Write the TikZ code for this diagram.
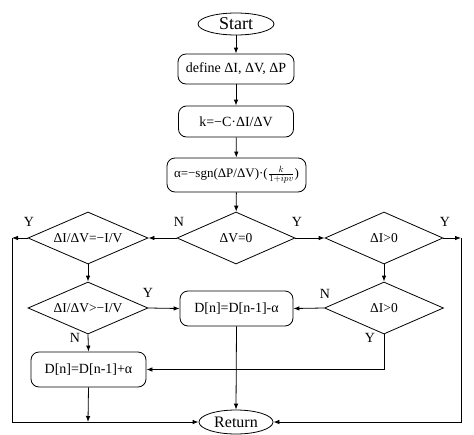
\documentclass[tikz,border=0pt]{standalone}
\usepackage{fontspec}
\setmainfont{Liberation Serif}
\usetikzlibrary{shapes.geometric,arrows.meta}
\tikzset{
  arr/.style={-{Latex[length=6pt,width=4.5pt]}},
  term/.style={ellipse,draw,inner sep=0pt},
  proc/.style={draw,rounded corners=8pt,inner sep=0pt,font=\fontsize{14}{16}\selectfont},
  dec/.style={diamond,draw,inner sep=0pt,aspect=2.3,font=\fontsize{13.5}{16}\selectfont},
  lab/.style={font=\fontsize{14}{16}\selectfont,inner sep=0pt}
}
\begin{document}
\begin{tikzpicture}[x=1pt,y=-1pt,line width=0.8pt]
\useasboundingbox (0,0) rectangle (474,434);
\node[term,minimum width=76pt,minimum height=22pt,font=\fontsize{18}{20}\selectfont] (start) at (236,24) {Start};
\node[proc,minimum width=116pt,minimum height=30pt] (def) at (236,69) {define ΔI, ΔV, ΔP};
\node[proc,minimum width=115pt,minimum height=31pt] (k) at (236,121.5) {k=−C·ΔI/ΔV};
\node[proc,minimum width=139pt,minimum height=34pt,font=\fontsize{13}{15}\selectfont] (al) at (236.5,175) {α=−sgn(ΔP/ΔV)·($\frac{k}{1+ipv}$)};
\node[dec,minimum width=118pt,minimum height=52pt] (dv) at (236,238) {ΔV=0};
\node[dec,minimum width=120pt,minimum height=52pt] (dd1) at (88,238) {ΔI/ΔV=−I/V};
\node[dec,minimum width=120pt,minimum height=52pt] (dd2) at (88,308) {ΔI/ΔV>−I/V};
\node[dec,minimum width=118pt,minimum height=52pt] (di1) at (384,238) {ΔI>0};
\node[dec,minimum width=119pt,minimum height=52pt] (di2) at (384,308) {ΔI>0};
\node[proc,minimum width=113pt,minimum height=35pt] (bm) at (236.5,308.5) {D[n]=D[n-1]-α};
\node[proc,minimum width=115pt,minimum height=35pt] (bp) at (88.5,369.5) {D[n]=D[n-1]+α};
\node[term,minimum width=74pt,minimum height=24pt,font=\fontsize{16}{18}\selectfont] (ret) at (236,422) {Return};
\coordinate (lt) at (12,238);
\coordinate (rt) at (461,238);
\coordinate (bpb) at (88,422);

\draw[arr] (start) -- (def);
\draw[arr] (def) -- (k);
\draw[arr] (k) -- (al);
\draw[arr] (al) -- (dv);
\draw[arr] (dv.west) -- (dd1.east);
\draw[arr] (dv.east) -- (di1.west);
\draw[arr] (dd1.west) -- (lt);
\draw[arr] (lt) |- (ret.west);
\draw[arr] (di1.east) -- (rt);
\draw[arr] (rt) |- (ret.east);
\draw[arr] (dd1.south) -- (dd2.north);
\draw[arr] (dd2.east) -- (bm.west);
\draw[arr] (dd2.south) -- (bp.north);
\draw[arr] (di1.south) -- (di2.north);
\draw[arr] (di2.west) -- (bm.east);
\draw[arr] (di2.south) |- (bp.east);
\draw[arr] (bm.south) -- (ret.north);
\draw[arr] (bp.south) -- (bpb);

\node[lab] (l1) at (179,222) {N};
\node[lab] (l2) at (297,222) {Y};
\node[lab] (l3) at (29,222) {Y};
\node[lab] (l4) at (445,222) {Y};
\node[lab] (l5) at (148,293) {Y};
\node[lab] (l6) at (75,338) {N};
\node[lab] (l7) at (325,294) {N};
\node[lab] (l8) at (370,338) {Y};
\end{tikzpicture}
\end{document}
